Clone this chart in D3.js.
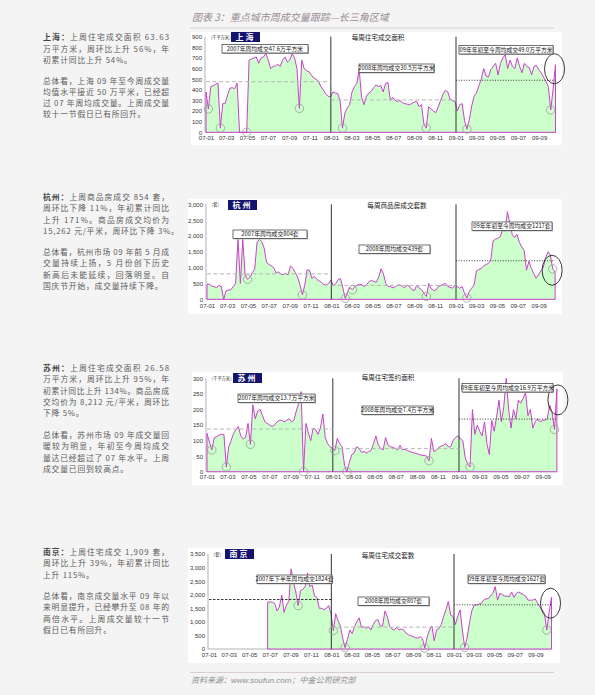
<!DOCTYPE html>
<html><head><meta charset="utf-8">
<script src="https://cdn.jsdelivr.net/npm/d3@7"></script>
<style>
html,body{margin:0;padding:0;background:#f4f4f4;}
svg{display:block;}
</style></head><body>
<svg id="chart" width="595" height="695"></svg>
<script>
// ---------------- DATA ----------------
const tickLabels = ["07-01","07-03","07-05","07-07","07-09","07-11","08-01","08-03","08-05","08-07","08-09","08-11","09-01","09-03","09-05","09-07","09-09"];
const yearStarts = ["08-01","09-01"];

// Shanghai weekly residential transaction area (千平方米), weeks from 2007-01-01
const shValues = [380,220,430,440,450,465,40,270,270,350,
415,420,410,465,0,0,0,0,680,690,
700,710,650,700,710,740,680,600,620,625,
640,620,680,710,660,680,740,700,600,225,
680,600,580,570,540,510,500,480,430,400,
360,340,335,380,370,365,300,40,180,230,
260,380,430,460,585,330,260,340,370,385,
420,445,430,440,380,460,470,300,330,300,
290,300,280,270,265,260,270,285,290,240,
260,80,40,240,220,200,185,240,300,360,
395,380,310,300,290,200,260,270,110,30,
120,250,340,370,440,500,600,530,520,590,
620,650,540,650,700,730,600,680,620,600,
700,620,560,650,620,610,540,620,630,590,
560,520,480,430,210,408,636];
const shCircles = [1,6,17,39,57,92,109,144];
const shMeans = [476,305,490];

// Hangzhou weekly commodity housing units (套)
const hzValues = [475,475,420,400,370,440,400,0,270,290,
300,400,500,1890,500,1890,760,630,700,840,
960,1800,1890,1820,1610,1160,1100,1050,1000,830,
870,790,780,820,770,1050,980,850,700,450,
140,450,930,920,660,720,640,580,530,470,
450,500,610,420,500,620,660,350,30,250,
370,300,400,450,480,450,400,470,560,600,
560,540,700,960,800,500,400,400,360,400,
450,450,400,370,450,400,300,280,450,350,
300,190,90,500,330,280,290,400,430,470,
500,400,380,350,450,400,350,400,190,40,
250,350,450,900,940,980,1050,1100,1130,1240,
1850,1900,1930,1980,2200,2150,2770,2400,2050,1950,
2050,1800,1650,1550,920,1200,980,820,670,770,
900,1000,1300,1500,1400,960,854];
const hzCircles = [17,40,58,61,92,109,145];
const hzMeans = [804,439,1217];

// Suzhou weekly residential contracted area (千平方米)
const szValues = [123,95,70,110,112,118,120,120,15,80,
100,123,135,145,115,105,110,155,88,215,
170,195,200,180,160,155,150,145,150,160,
165,165,160,165,170,160,165,195,220,257,
0,155,125,100,140,135,120,140,185,110,
90,80,75,68,107,90,80,20,0,30,
55,60,80,75,62,65,60,65,68,90,
115,85,75,70,110,85,80,78,75,70,
85,70,72,68,65,62,60,58,55,53,
52,50,35,107,65,68,78,82,85,90,
80,80,100,110,115,105,100,45,25,15,
200,120,150,130,115,160,90,55,165,130,
175,230,160,210,300,200,140,200,170,230,
220,235,255,180,200,140,160,170,160,165,
165,170,214,190,136,266];
const szCircles = [2,8,18,40,53,58,92,109,144];
const szMeans = [137,74,169];

// Nanjing weekly residential units (套), no data before mid-2007
const njValues = [null,null,null,null,null,null,null,null,null,null,
null,null,null,null,null,null,null,null,null,null,
null,null,null,null,null,1720,1740,1720,1680,1400,
1550,1990,1350,1620,1750,2950,2450,2100,1600,2150,
2200,2300,2800,2300,2350,1950,1900,1500,1500,1450,
1500,1600,1300,680,1300,1050,850,400,50,350,
700,570,820,1000,1150,800,820,760,820,700,
900,1050,1080,850,850,1400,1200,830,740,700,
800,700,740,700,580,520,500,450,420,400,
450,380,30,450,700,850,300,700,750,900,
1200,1450,1750,1250,1200,900,1200,1440,700,60,
400,950,1400,1620,1620,1650,1680,1800,1850,1850,
1950,2050,2300,1800,2050,2000,1950,1950,1930,2100,
1900,2050,2100,2050,2000,1950,1800,1800,1800,1850,
1700,1550,1450,1300,700,1373,1909];
const njCircles = [38,53,58,92,109,144];
const njMeans = [1824,807,1627];

const shNotes = ["2007年周均成交47.6万平方米","2008年周均成交30.5万平方米","09年年初至今周均成交49.0万平方米"];
const hzNotes = ["2007年周均成交804套","2008年周均成交439套","09年年初至今周均成交1217套"];
const szNotes = ["2007年周均成交13.7万平方米","2008年周均成交7.4万平方米","09年年初至今周均成交16.9万平方米"];
const njNotes = ["2007年下半年周均成交1824套","2008年周均成交807套","09年年初至今周均成交1627套"];

const shText = [["上海：","上周住宅成交面积 63.63"],"万平方米，周环比上升 56%，年","初累计同比上升 54%。",null,
"总体看，上海 09 年至今周成交量","均值水平接近 50 万平米，已经超","过 07 年周均成交量。上周成交量","较十一节假日已有所回升。"];
const hzText = [["杭州：","上周商品房成交 854 套，"],"周环比下降 11%，年初累计同比","上升 171%。商品房成交均价为","15,262 元/平米，周环比下降 3%。",null,
"总体看，杭州市场 09 年前 5 月成","交量持续上扬，5 月份创下历史","新高后未能延续，回落明显。自","国庆节开始，成交量持续下降。"];
const szText = [["苏州：","上周住宅成交面积 26.58"],"万平方米，周环比上升 95%，年","初累计同比上升 134%。商品房成","交均价为 8,212 元/平米，周环比","下降 5%。",null,
"总体看，苏州市场 09 年成交量回","暖较为明显，年初至今周均成交","量达已经超过了 07 年水平。上周","成交量已回到较高点。"];
const njText = [["南京：","上周住宅成交 1,909 套，"],"周环比上升 39%，年初累计同比","上升 115%。",null,
"总体看，南京成交量水平 09 年以","来明显提升，已经攀升至 08 年的","两倍水平。上周成交量较十一节","假日已有所回升。"];

// ---------------- LAYOUT ----------------
const panels = [
 {city:"上海", values:shValues, circles:shCircles, means:shMeans, notes:shNotes, text:shText,
  textY:[37,48.5,60,null,80.5,91.5,102.5,113.5],
  box:[191,32,371,113], x07:206, x09:456, yMax:900, yStep:100, yTop:36.7, y0:132.3, xLabY:139.5,
  unit:"（千平方米）", title:"每周住宅成交面积", titleX:378, titleY:37.5, cityBox:[231,32],
  noteBoxes:[[222,44.5,86],[359,64,75],[459,45.5,94]], m07Black:false, ell:[-1,4]},
 {city:"杭州", values:hzValues, circles:hzCircles, means:hzMeans, notes:hzNotes, text:hzText,
  textY:[197,208.3,219.6,230.9,null,252,263.3,274.6,285.9],
  box:[188,199,374,115], x07:207, x09:456, yMax:3000, yStep:500, yTop:204.3, y0:299.3, xLabY:308,
  unit:"（套）", title:"每周商品房成交套数", titleX:397, titleY:205.5, cityBox:[228,200],
  noteBoxes:[[233,230,74],[359,245,71],[472,222,80]], m07Black:false, ell:[-3,-2]},
 {city:"苏州", values:szValues, circles:szCircles, means:szMeans, notes:szNotes, text:szText,
  textY:[368,379.3,390.6,401.9,413.2,null,435,446.3,457.6,468.9],
  box:[192,372,371,113], x07:207, x09:459, yMax:300, yStep:50, yTop:378.3, y0:471.7, xLabY:479,
  unit:"（千平方米）", title:"每周住宅签约面积", titleX:388, titleY:377.5, cityBox:[233,373],
  noteBoxes:[[238,394,77],[362,406,71],[462,383.5,91]], m07Black:false, ell:[1,11]},
 {city:"南京", values:njValues, circles:njCircles, means:njMeans, notes:njNotes, text:njText,
  textY:[552,563.3,574.6,null,596,607.3,618.6,629.9],
  box:[188,548,372,115], x07:209, x09:454, yMax:3500, yStep:500, yTop:554, y0:649, xLabY:657,
  unit:"（套）", title:"每周住宅成交套数", titleX:388, titleY:555.5, cityBox:[225,549],
  noteBoxes:[[257,575,75],[358,597,71],[468,575,77]], m07Black:true, ell:[-1,6]}
];

// ---------------- DRAW ----------------
const svg = d3.select("#chart");
const CJK = "'Noto Sans CJK SC','Noto Sans',sans-serif";
const LAT = "'Liberation Sans',Arial,sans-serif";
svg.append("rect").attr("width",595).attr("height",695).attr("fill","#f4f4f4");

svg.append("text").attr("x",192).attr("y",21).attr("font-family",CJK).attr("font-size",10)
  .attr("font-style","italic").attr("fill","#9a8c94").text("图表 3：重点城市周成交量跟踪—长三角区域");
svg.append("line").attr("x1",190).attr("x2",554).attr("y1",28).attr("y2",28)
  .attr("stroke","#d9cdd0").attr("stroke-width",1.2);

const src = svg.append("text").attr("x",191).attr("y",683).attr("font-size",8)
  .attr("font-style","italic").attr("fill","#8f8f8f").attr("font-family",CJK);
src.append("tspan").text("资料来源：");
src.append("tspan").attr("font-family",LAT).text("www.soufun.com");
src.append("tspan").text("；中金公司研究部");
svg.append("line").attr("x1",190).attr("x2",554).attr("y1",672.5).attr("y2",672.5)
  .attr("stroke","#d9cdd0").attr("stroke-width",1.2);

const parseTick = d3.timeParse("%y-%m");
const start = new Date(2007,0,1);
const dateOf = i => d3.timeDay.offset(start, 7*i);

panels.forEach(p => {
  const g = svg.append("g");
  // left text
  const paraLast = new Set();
  p.text.forEach((t,i) => { if (t!==null && (i===p.text.length-1 || p.text[i+1]===null)) paraLast.add(i); });
  p.text.forEach((t,i) => {
    if (t===null) return;
    const tx = g.append("text").attr("x",43).attr("y",p.textY[i]+3)
      .attr("font-family",CJK).attr("font-size",7.8).attr("fill","#5c5c5c");
    if (Array.isArray(t)) {
      tx.append("tspan").attr("font-weight","bold").attr("fill","#444").text(t[0]);
      tx.append("tspan").text(t[1]);
    } else tx.text(t);
    if (!paraLast.has(i)) tx.attr("textLength",126).attr("lengthAdjust","spacing");
    else tx.attr("letter-spacing",0.8);
  });

  // chart box
  g.append("rect").attr("x",p.box[0]).attr("y",p.box[1]).attr("width",p.box[2]).attr("height",p.box[3]).attr("fill","#fff");

  const x = d3.scaleTime().domain([start,new Date(2009,0,1)]).range([p.x07,p.x09]);
  const y = d3.scaleLinear().domain([0,p.yMax]).range([p.y0,p.yTop]);
  const pts = p.values.map((v,i)=>({d:dateOf(i),v}));
  const lastIdx = p.values.length-1;
  const xEnd = x(dateOf(lastIdx));

  // axis lines
  g.append("line").attr("x1",p.x07-1).attr("x2",p.x07-1).attr("y1",p.yTop).attr("y2",p.y0).attr("stroke","#a0a0a0").attr("stroke-width",0.8);
  g.append("line").attr("x1",p.x07-1).attr("x2",xEnd).attr("y1",p.y0).attr("y2",p.y0).attr("stroke","#a0a0a0").attr("stroke-width",0.8);

  // area
  const area = d3.area().defined(d=>d.v!==null).x(d=>x(d.d)).y0(y(0)).y1(d=>y(d.v));
  g.append("path").datum(pts).attr("d",area).attr("fill","#ccffcc")
    .attr("stroke","#cc40cc").attr("stroke-width",1).attr("stroke-linejoin","round");

  // year separators
  yearStarts.forEach(s => {
    const xx = x(parseTick(s));
    g.append("line").attr("x1",xx).attr("x2",xx).attr("y1",p.yTop).attr("y2",p.y0)
      .attr("stroke","#333").attr("stroke-width",1);
  });

  // mean lines
  const spans = [[start,parseTick("08-01")],[parseTick("08-01"),parseTick("09-01")],[parseTick("09-01"),dateOf(lastIdx)]];
  p.means.forEach((m,k) => {
    const black = k===2 || (k===0 && p.m07Black);
    g.append("line").attr("x1",x(spans[k][0])).attr("x2",x(spans[k][1]))
      .attr("y1",y(m)).attr("y2",y(m))
      .attr("stroke", black ? "#222" : "#b5b5b5").attr("stroke-width", black?0.9:1)
      .attr("stroke-dasharray", k===2 ? "1,1.6" : (black ? "2.5,1.5" : "4,2.5"));
  });

  // axes
  const ya = g.append("g").attr("transform",`translate(${p.x07-4},0)`)
    .call(d3.axisLeft(y).tickValues(d3.range(0,p.yMax+1,p.yStep)).tickSize(0).tickPadding(0)
      .tickFormat(p.yMax>=1000 ? d3.format(",") : d3.format("d")));
  ya.select(".domain").remove();
  ya.selectAll("text").attr("font-family",LAT).attr("font-size",6).attr("fill","#333");

  const xa = g.append("g").attr("transform",`translate(0,${p.xLabY-4})`)
    .call(d3.axisBottom(x).tickValues(tickLabels.map(parseTick)).tickSize(0).tickPadding(0)
      .tickFormat(d3.timeFormat("%y-%m")));
  xa.select(".domain").remove();
  xa.selectAll("text").attr("font-family",LAT).attr("font-size",6).attr("fill","#333");

  // circles
  p.circles.forEach(i => {
    g.append("circle").attr("cx",x(dateOf(i))).attr("cy",y(p.values[i])).attr("r",4.2)
      .attr("fill","none").attr("stroke","#9a9a9a").attr("stroke-width",0.8);
  });
  g.append("ellipse").attr("cx",xEnd+p.ell[0]).attr("cy",y(p.values[lastIdx])+p.ell[1])
    .attr("rx",10).attr("ry",15).attr("fill","none").attr("stroke","#222").attr("stroke-width",0.9);

  // note boxes
  p.notes.forEach((n,k) => {
    const b = p.noteBoxes[k];
    g.append("rect").attr("x",b[0]+0.8).attr("y",b[1]+0.8).attr("width",b[2]).attr("height",8.5).attr("fill","#999");
    g.append("rect").attr("x",b[0]).attr("y",b[1]).attr("width",b[2]).attr("height",8.5)
      .attr("fill","#fff").attr("stroke","#333").attr("stroke-width",0.7);
    g.append("text").attr("x",b[0]+b[2]/2).attr("y",b[1]+6.4).attr("text-anchor","middle")
      .attr("font-family",CJK).attr("font-size",5.8).attr("fill","#111").text(n);
  });

  // city label
  g.append("rect").attr("x",p.cityBox[0]).attr("y",p.cityBox[1]).attr("width",29).attr("height",10).attr("fill","#14146e");
  g.append("text").attr("x",p.cityBox[0]+14.5).attr("y",p.cityBox[1]+8).attr("text-anchor","middle")
    .attr("font-family",CJK).attr("font-size",8).attr("font-weight","bold").attr("letter-spacing",2)
    .attr("fill","#fff").text(p.city);

  // unit & title
  g.append("text").attr("x",p.x07+2).attr("y",p.yTop+2).attr("font-family",CJK).attr("font-size",4.2)
    .attr("fill","#333").text(p.unit);
  g.append("text").attr("x",p.titleX).attr("y",p.titleY+2.5).attr("text-anchor","middle")
    .attr("font-family",CJK).attr("font-size",6.6).attr("fill","#222").text(p.title);
});
</script>
</body></html>
